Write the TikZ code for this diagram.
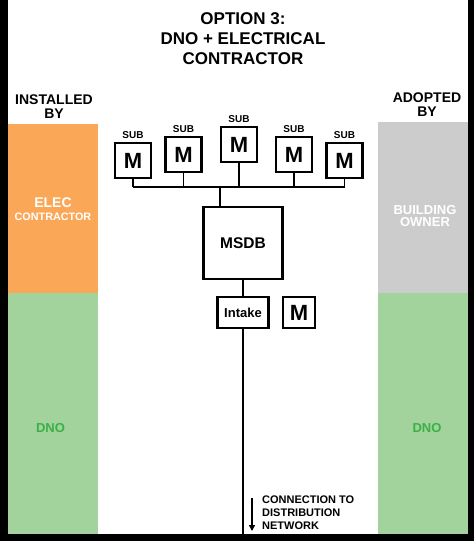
\documentclass[tikz,border=0pt]{standalone}
\usepackage{fontspec}
\setmainfont{Liberation Sans}
\usetikzlibrary{arrows.meta,positioning}
\definecolor{orng}{RGB}{250,168,88}
\definecolor{gry}{RGB}{204,204,204}
\definecolor{grnfill}{RGB}{163,211,156}
\definecolor{grntext}{RGB}{60,176,72}
\begin{document}
\begin{tikzpicture}[x=1pt,y=-1pt,
  box/.style={draw,line width=2.2pt,inner sep=0pt,font=\bfseries\fontsize{22}{22}\selectfont},
  mbox/.style={box,minimum width=36pt,minimum height=35pt},
  sublbl/.style={font=\bfseries\fontsize{10}{10}\selectfont,inner sep=0pt},
  wire/.style={line width=1.8pt},
  hdr/.style={font=\bfseries\fontsize{14}{13.5}\selectfont,align=center,inner sep=0pt},
  coltext/.style={text=white,font=\bfseries\fontsize{13}{12}\selectfont,align=center,inner sep=0pt},
  dnotext/.style={text=grntext,font=\bfseries\fontsize{13}{13}\selectfont,inner sep=0pt}]
\useasboundingbox (0,0) rectangle (474,541);
\fill[black] (0,0) rectangle (474,541);
\fill[white] (8,0) rectangle (468,534);
% columns
\fill[orng] (8,124) rectangle (98,293);
\fill[grnfill] (8,293) rectangle (98,534);
\fill[gry] (378,122) rectangle (468,293);
\fill[grnfill] (378,293) rectangle (468,534);
% title
\node[font=\bfseries\fontsize{17}{20}\selectfont,align=center,inner sep=0pt] (title) at (243,38.5) {OPTION 3:\\DNO + ELECTRICAL\\CONTRACTOR};
\node[hdr] (inst) at (54,106.5) {INSTALLED\\BY};
\node[hdr] (adop) at (427,104.5) {ADOPTED\\BY};
% column labels
\node[text=white,font=\bfseries\fontsize{14}{14}\selectfont,inner sep=0pt] (elec) at (53,203) {ELEC};
\node[text=white,font=\bfseries\fontsize{10.8}{12}\selectfont,inner sep=0pt] (contr) at (53,217) {CONTRACTOR};
\node[coltext] (owner) at (425,216.5) {BUILDING\\OWNER};
\node[dnotext] (dnoL) at (50.5,428) {DNO};
\node[dnotext] (dnoR) at (427,428) {DNO};
% sub meters
\node[mbox] (m1) at (133,160.5) {M};
\node[mbox] (m2) at (183.5,154.5) {M};
\node[mbox] (m3) at (239,144.5) {M};
\node[mbox] (m4) at (294,154.5) {M};
\node[mbox] (m5) at (344.5,160.5) {M};
\foreach \i in {1,...,5}{
  \node[sublbl,above=3.5pt of m\i.north] (s\i) {SUB};
}
% bus
\coordinate (busL) at (133,187);
\coordinate (busR) at (344.5,187);
\coordinate (jn) at (220,187);
\draw[wire] (busL) -- (busR);
\foreach \i in {1,...,5}{
  \draw[wire] (m\i.south) -- (m\i.south |- busL);
}
% MSDB
\node[box,minimum width=79pt,minimum height=72pt,font=\bfseries\fontsize{15.5}{15.5}\selectfont] (msdb) at (243,243) {MSDB};
\draw[wire] (jn) -- (jn |- msdb.north);
% intake and meter
\node[box,minimum width=51pt,minimum height=31pt,font=\bfseries\fontsize{13}{13}\selectfont] (intake) at (243,312.5) {Intake};
\node[box,minimum width=32pt,minimum height=31pt] (mm) at (299,312.5) {M};
\draw[wire] (msdb.south) -- (intake.north);
\coordinate (gnd) at (243,534);
\draw[wire] (intake.south) -- (gnd);
% arrow
\coordinate (a1) at (252,498);
\coordinate (a2) at (252,531);
\draw[line width=1.3pt,-{Triangle[length=6pt,width=6pt]}] (a1) -- (a2);
\node[font=\bfseries\fontsize{11}{13}\selectfont,align=left,anchor=north west,inner sep=0pt] (conn) at (262,496) {CONNECTION TO\\DISTRIBUTION\\NETWORK};
\end{tikzpicture}
\end{document}
